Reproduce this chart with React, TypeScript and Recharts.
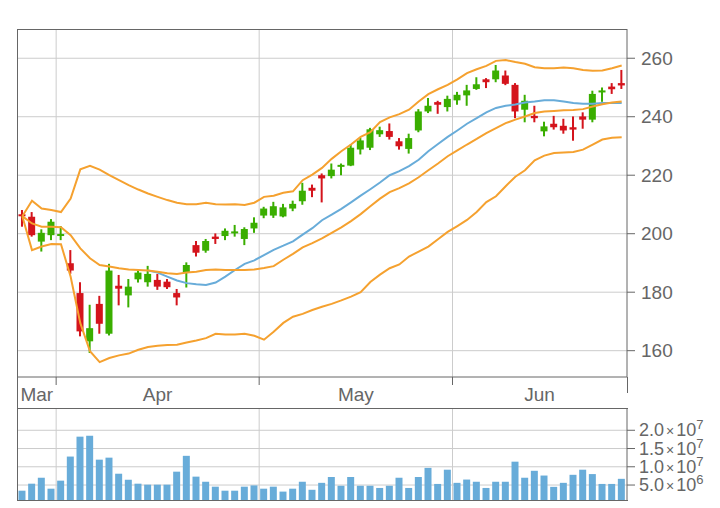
import React from 'react';
import { ComposedChart, Bar, Line, XAxis, YAxis, CartesianGrid } from 'recharts';

const openPrices = [206.6, 205.8, 197.3, 199.5, 199.3, 189.9, 179.7, 163.2, 176.0, 165.8, 182.2, 178.9, 184.4, 183.4, 184.2, 183.6, 179.7, 186.7, 196.1, 194.2, 199.0, 199.2, 200.3, 198.2, 201.8, 206.2, 206.2, 205.9, 208.6, 211.1, 215.7, 220.0, 219.7, 222.9, 223.3, 228.8, 229.4, 234.0, 235.1, 231.6, 229.0, 235.3, 241.8, 245.0, 243.3, 245.6, 247.3, 249.5, 252.8, 252.8, 254.1, 250.9, 242.4, 240.3, 235.0, 237.6, 236.9, 236.4, 240.1, 239.0, 248.3, 250.3, 251.5];
const highPrices = [208.1, 207.4, 201.5, 205.0, 202.6, 194.4, 183.4, 175.7, 178.75, 189.7, 185.9, 184.5, 187.8, 189.0, 186.25, 184.5, 181.1, 190.2, 197.5, 198.2, 200.1, 201.8, 203.0, 202.2, 205.6, 209.2, 210.9, 210.2, 211.3, 217.4, 216.8, 220.6, 224.0, 224.0, 230.5, 232.8, 236.2, 236.6, 237.7, 232.7, 234.2, 242.6, 246.4, 245.45, 247.2, 248.5, 250.9, 253.5, 253.2, 257.7, 255.8, 251.5, 247.5, 243.75, 238.3, 240.3, 239.3, 240.1, 241.5, 248.9, 250.0, 251.5, 256.0];
const lowPrices = [202.4, 199.0, 193.9, 197.8, 197.8, 186.3, 164.9, 159.2, 165.8, 165.2, 175.5, 174.8, 183.3, 181.9, 180.8, 181.1, 175.5, 181.6, 192.2, 193.5, 196.5, 197.8, 199.0, 196.1, 200.3, 205.3, 205.4, 205.6, 207.7, 209.9, 212.5, 210.7, 218.9, 220.0, 223.1, 227.1, 228.6, 233.1, 232.2, 228.75, 227.4, 234.7, 241.25, 241.0, 241.8, 244.1, 243.75, 249.2, 249.8, 251.8, 250.8, 239.5, 238.1, 238.1, 233.3, 235.6, 234.2, 231.8, 235.9, 238.1, 245.1, 247.8, 249.5];
const closePrices = [206.0, 199.5, 200.3, 204.1, 199.8, 187.4, 166.6, 167.7, 169.2, 187.4, 181.2, 181.9, 186.7, 186.25, 181.9, 181.7, 178.2, 189.3, 193.5, 197.5, 198.2, 201.0, 200.6, 201.6, 203.75, 208.6, 209.4, 209.0, 210.2, 214.7, 214.7, 218.9, 221.9, 223.5, 229.4, 231.9, 235.7, 235.4, 233.1, 229.9, 232.7, 241.8, 243.75, 244.1, 246.1, 247.5, 249.0, 251.1, 251.8, 255.8, 251.25, 241.8, 245.45, 239.5, 236.7, 236.4, 235.3, 235.6, 239.0, 247.8, 249.0, 249.4, 250.7];

const upperBand = [206.0, 211.25, 208.6, 208.1, 207.4, 212.0, 222.0, 223.2, 221.9, 220.0, 218.3, 216.6, 215.1, 213.75, 212.6, 211.5, 210.6, 210.1, 210.1, 210.6, 210.1, 210.0, 210.1, 209.8, 210.6, 212.6, 213.0, 214.0, 214.5, 218.3, 220.2, 222.5, 225.6, 228.2, 230.5, 233.1, 234.7, 238.2, 239.8, 240.9, 242.4, 245.2, 247.7, 249.4, 250.9, 252.8, 254.9, 256.25, 257.4, 259.1, 259.4, 258.7, 258.1, 256.9, 256.6, 256.6, 256.8, 256.6, 256.0, 255.7, 255.8, 256.6, 257.5];
const midBand = [206.0, 203.5, 202.4, 202.4, 202.2, 199.5, 195.0, 191.6, 189.3, 188.75, 188.2, 187.8, 187.6, 187.4, 187.0, 186.5, 186.25, 186.7, 187.0, 187.6, 187.8, 187.6, 187.6, 187.6, 187.8, 188.3, 188.9, 191.1, 193.1, 195.3, 196.8, 198.4, 200.3, 202.2, 204.3, 206.7, 209.4, 212.0, 214.2, 215.6, 217.2, 219.3, 221.7, 224.0, 226.5, 228.5, 230.5, 232.4, 234.4, 236.1, 237.8, 239.0, 240.1, 241.25, 241.8, 242.0, 242.2, 242.3, 242.6, 243.5, 244.3, 244.9, 245.2];
const lowerBand = [206.0, 194.4, 195.6, 196.5, 196.4, 185.3, 169.4, 159.8, 156.1, 157.5, 158.4, 159.0, 160.3, 161.25, 161.7, 161.9, 162.0, 162.8, 163.5, 164.3, 165.8, 165.5, 165.5, 165.8, 165.1, 163.75, 166.5, 169.5, 171.6, 172.6, 173.9, 175.0, 176.0, 177.2, 178.5, 180.0, 183.5, 186.0, 188.2, 189.5, 192.2, 193.9, 195.6, 198.1, 200.6, 202.6, 204.7, 207.4, 210.8, 212.8, 216.25, 219.5, 221.7, 225.1, 226.7, 227.6, 227.8, 227.95, 228.75, 230.5, 232.2, 232.8, 233.0];
const movingAvg = [null, null, null, null, null, null, null, null, null, null, null, null, null, 187.4, 186.7, 185.3, 184.0, 183.1, 182.7, 182.5, 183.3, 185.3, 187.6, 189.7, 190.9, 192.7, 194.5, 195.9, 197.4, 199.7, 201.9, 204.6, 206.5, 208.5, 210.7, 213.0, 215.2, 217.5, 220.0, 221.4, 223.1, 225.3, 228.2, 230.7, 233.1, 235.3, 237.6, 239.5, 241.5, 243.0, 243.75, 244.2, 244.9, 245.2, 245.6, 245.6, 245.2, 244.7, 244.4, 244.4, 244.7, 244.7, 244.7];

// volume in millions of shares
const volumes = [3.45, 5.37, 7.0, 4.0, 6.2, 12.8, 18.25, 18.5, 11.95, 12.5, 8.1, 6.46, 5.37, 5.1, 5.1, 5.1, 8.66, 13.0, 7.3, 5.9, 4.55, 3.45, 3.45, 4.55, 4.9, 4.0, 4.55, 3.2, 4.0, 5.9, 3.7, 5.6, 7.2, 4.8, 7.2, 4.8, 4.8, 4.2, 4.8, 7.0, 4.2, 7.2, 9.7, 5.3, 9.2, 5.6, 6.5, 5.9, 4.2, 5.9, 5.9, 11.4, 7.0, 8.9, 7.6, 4.5, 5.6, 7.8, 9.2, 8.0, 5.3, 5.3, 6.7];

const monthBounds = [3.5, 24.5, 44.5];
const monthCenters = [1.5, 14, 34.5, 53.5];
const monthLabels = ['Mar', 'Apr', 'May', 'Jun'];
const priceTicks = [160, 180, 200, 220, 240, 260];
const volumeTicks = [5e6, 1e7, 1.5e7, 2e7];
const volumeLabels = [['5.0', '6'], ['1.0', '7'], ['1.5', '7'], ['2.0', '7']];

const rows = openPrices.map((o, i) => ({
  i,
  open: o,
  high: highPrices[i],
  low: lowPrices[i],
  close: closePrices[i],
  range: [lowPrices[i], highPrices[i]],
  upper: upperBand[i],
  mid: midBand[i],
  lower: lowerBand[i],
  ma: movingAvg[i],
  volume: volumes[i] * 1e6,
}));

const GREEN = '#3aae00';
const RED = '#d4141c';
const ORANGE = '#f5a12f';
const BLUE = '#68acd9';
const GRID = '#cccccc';
const FRAME = '#666666';
const TEXT = '#666666';
const FONT = '"Liberation Sans", Arial, Helvetica, sans-serif';
const X_DOMAIN = [-0.55, 62.55];

const Candle = (props: any) => {
  const { x, y, width, height, payload } = props;
  if (!payload || x == null) return null;
  const { open, close, high, low } = payload;
  const color = close >= open ? GREEN : RED;
  const top = Math.min(y, y + height);
  const h = Math.abs(height);
  const toY = (v: number) => top + ((high - v) / (high - low)) * h;
  const cx = x + width / 2;
  const bTop = toY(Math.max(open, close));
  const bBot = toY(Math.min(open, close));
  const bh = Math.max(bBot - bTop, 2);
  return (
    <g>
      <rect x={cx - 1} y={top} width={2} height={h} fill={color} />
      <rect x={x} y={bh === 2 ? (bTop + bBot) / 2 - 1 : bTop} width={width} height={bh} fill={color} />
    </g>
  );
};

const MonthTick = (props: any) => {
  const { x, y, payload } = props;
  const v = payload.value;
  if (monthBounds.includes(v)) {
    return <line x1={x} y1={y} x2={x} y2={y + 8} stroke={FRAME} strokeWidth={1} />;
  }
  const idx = monthCenters.indexOf(v);
  return (
    <text x={x} y={y + 24} textAnchor="middle" fill={TEXT} fontSize={19} fontFamily={FONT}>
      {monthLabels[idx]}
    </text>
  );
};

const VolumeTick = (props: any) => {
  const { x, y, payload } = props;
  const idx = volumeTicks.indexOf(payload.value);
  if (idx < 0) return null;
  const [mant, exp] = volumeLabels[idx];
  return (
    <text x={x} y={y + 6} textAnchor="start" fill={TEXT} fontSize={18} fontFamily={FONT}>
      {mant}
      <tspan dx={2} fontSize={14}>×</tspan>
      <tspan dx={2}>10</tspan>
      <tspan dy={-7} fontSize={13}>{exp}</tspan>
    </text>
  );
};

export default function App() {
  return (
    <div style={{ position: 'absolute', left: 0, top: 0, width: 720, height: 508, background: '#fff', fontFamily: FONT }}>
      <div style={{ position: 'absolute', left: 0, top: 0 }}>
        <ComposedChart width={720} height={408} data={rows} margin={{ top: 29, right: 0, bottom: 0, left: 17 }}>
          <CartesianGrid stroke={GRID} verticalValues={monthBounds} horizontalValues={priceTicks} />
          <XAxis
            dataKey="i"
            type="number"
            domain={X_DOMAIN}
            allowDataOverflow
            ticks={[1.5, 3.5, 14, 24.5, 34.5, 44.5, 53.5]}
            interval={0}
            tick={<MonthTick />}
            tickLine={false}
            tickSize={0}
            tickMargin={0}
            height={31}
            axisLine={{ stroke: FRAME }}
          />
          <YAxis
            orientation="right"
            type="number"
            domain={[151, 270]}
            allowDataOverflow
            ticks={priceTicks}
            interval={0}
            width={93}
            tickSize={8}
            tickMargin={6}
            tick={{ fill: TEXT, fontSize: 19, fontFamily: FONT }}
            tickLine={{ stroke: FRAME }}
            axisLine={{ stroke: FRAME }}
          />
          <Bar dataKey="range" barSize={7} shape={<Candle />} isAnimationActive={false} />
          <Line dataKey="ma" stroke={BLUE} strokeWidth={2} dot={false} isAnimationActive={false} />
          <Line dataKey="upper" stroke={ORANGE} strokeWidth={2} dot={false} isAnimationActive={false} />
          <Line dataKey="mid" stroke={ORANGE} strokeWidth={2} dot={false} isAnimationActive={false} />
          <Line dataKey="lower" stroke={ORANGE} strokeWidth={2} dot={false} isAnimationActive={false} />
        </ComposedChart>
      </div>
      {/* frame lines */}
      <div style={{ position: 'absolute', left: 17, top: 29, width: 610, height: 348, borderTop: `1px solid ${FRAME}`, borderLeft: `1px solid ${FRAME}`, boxSizing: 'border-box', pointerEvents: 'none' }} />
      <div style={{ position: 'absolute', left: 17, top: 377, width: 1, height: 31, background: FRAME }} />
      <div style={{ position: 'absolute', left: 627, top: 377, width: 1, height: 16, background: FRAME }} />
      <div style={{ position: 'absolute', left: 0, top: 398 }}>
        <ComposedChart width={720} height={110} data={rows} margin={{ top: 10, right: 0, bottom: 8, left: 17 }}>
          <CartesianGrid stroke={GRID} verticalValues={monthBounds} horizontalValues={volumeTicks} />
          <XAxis dataKey="i" type="number" domain={X_DOMAIN} allowDataOverflow hide />
          <YAxis
            orientation="right"
            type="number"
            domain={[0.9e6, 2.61e7]}
            allowDataOverflow
            ticks={volumeTicks}
            interval={0}
            width={93}
            tickSize={8}
            tickMargin={4}
            tick={<VolumeTick />}
            tickLine={{ stroke: FRAME }}
            axisLine={{ stroke: FRAME }}
          />
          <Bar dataKey="volume" barSize={7} fill={BLUE} isAnimationActive={false} />
        </ComposedChart>
      </div>
      <div style={{ position: 'absolute', left: 17, top: 408, width: 611, height: 93, border: `1px solid ${FRAME}`, borderRight: 'none', boxSizing: 'border-box', pointerEvents: 'none' }} />
    </div>
  );
}
